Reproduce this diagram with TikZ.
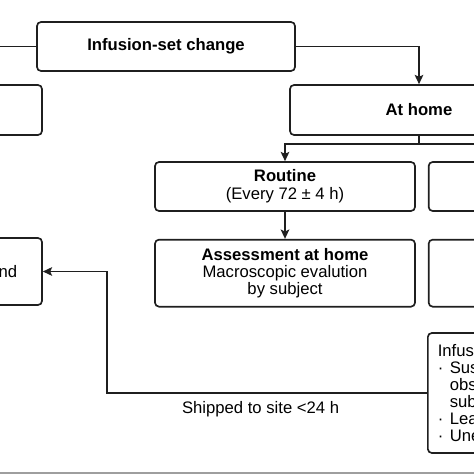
\documentclass[tikz,border=0pt]{standalone}
\usepackage{fontspec}
\setmainfont{Liberation Sans}
\usetikzlibrary{arrows.meta, positioning}

\tikzset{
  box/.style={draw=black!88, line width=1pt, rounded corners=2.4pt, minimum width=154.8pt, minimum height=29.4pt, align=center, inner sep=0pt},
  tallbox/.style={box, minimum height=40.2pt},
  line/.style={draw=black!88, line width=0.9pt},
  arrow/.style={line, -{Stealth[length=5.6pt, width=5.2pt, inset=1.2pt]}}
}
\newcommand{\bul}{\makebox[7.2pt][l]{\textperiodcentered}}

\begin{document}
\begin{tikzpicture}[x=0.6pt, y=-0.6pt, font=\fontsize{10}{10.2}\selectfont]
\useasboundingbox (0,0) rectangle (474,474);
\clip (0,0) rectangle (474,474);

% top row
\node[box] (change) at (166,46.5) {\textbf{Infusion-set change}};
\node[box, minimum height=30pt] (site) at (-87,110) {};
\node[box, minimum height=30pt] (home) at (419,110) {\textbf{At home}};

% routine branch
\node[box, minimum width=156pt, font=\fontsize{10}{10.8}\selectfont] (routine) at (285,186.5) {\textbf{Routine}\\(Every 72 ± 4 h)};
\node[tallbox, minimum width=156pt, below=16.2pt of routine] (assess) {\textbf{Assessment at home}\\Macroscopic evalution\\by subject};
\node[box, right=7.2pt of routine] (other) {};
\node[tallbox, right=7.2pt of assess] (otherassess) {};

% site column
\node[tallbox] (siteassess) at (-87,271.5) {};
\node[anchor=east, inner sep=0pt] (siteassesstxt) at (17.5,272) {nd};

% returned sets
\node[box, anchor=west, minimum height=72pt, align=left, text width=142.8pt, inner xsep=6pt] (returns) at (427,393)
  {Infus\\\bul Sus\\\hspace*{7.2pt}obs\\\hspace*{7.2pt}sub\\\bul Lea\\\bul Une};

\coordinate (leftedge) at (0,46.5);
\coordinate (split) at (419,144);
\coordinate (rightedge) at (474,144);
\coordinate (bend) at (107,393);

\draw[line] (change.west) -- (leftedge);
\draw[arrow] (change.east) -| (home.north);
\draw[line] (home.south) -- (split);
\draw[line] (split) -- (rightedge);
\draw[arrow] (split) -| (routine.north);
\draw[arrow] (routine) -- (assess);
\draw[arrow] (returns.west) -- node[below=1pt, pos=0.52] (shipped) {Shipped to site <24 h} (bend) |- (siteassess.east);

\fill[black!38] (0,472) rectangle (474,474);
\end{tikzpicture}
\end{document}
